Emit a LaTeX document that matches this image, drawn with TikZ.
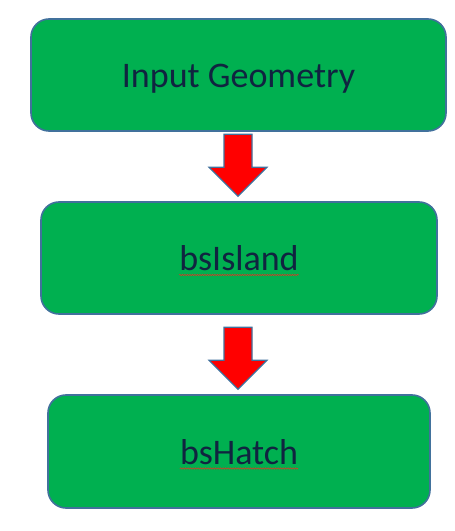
\documentclass[tikz,border=0pt]{standalone}
\usepackage{fontspec}
\setmainfont{Carlito}
\usetikzlibrary{calc,decorations.pathmorphing}
\definecolor{boxColor}{RGB}{0,176,80}
\definecolor{edgeColor}{RGB}{65,113,156}
\definecolor{arrowColor}{RGB}{255,0,0}
\definecolor{textColor}{RGB}{16,36,64}
\definecolor{waveColor}{RGB}{210,60,40}
\tikzset{
  stepbox/.style={draw=edgeColor,line width=1.6pt,fill=boxColor,rounded corners=18pt,inner sep=0pt},
  steptext/.style={text=textColor,anchor=base,inner sep=0pt,font=\fontsize{36}{42}\selectfont},
  blockarrow/.style={draw=edgeColor,line width=1.2pt,fill=arrowColor,line join=miter},
  spellwave/.style={draw=waveColor,line width=0.6pt,decorate,decoration={snake,amplitude=0.7pt,segment length=2.5pt}}
}
\begin{document}
\begin{tikzpicture}[x=1pt,y=1pt]
\path[use as bounding box,fill=white] (0,0) rectangle (455,531);

\node[stepbox,minimum width=415pt,minimum height=112pt] (geom) at (238.5,456) {};
\node[stepbox,minimum width=396pt,minimum height=112pt] (island) at (239,273) {};
\node[stepbox,minimum width=382pt,minimum height=113pt] (hatch) at (239,79.5) {};

\node[steptext] (geomtext) at ($(geom)+(0,-13)$) {Input Geometry};
\node[steptext] (islandtext) at ($(island)+(0,-13)$) {bsIsland};
\node[steptext] (hatchtext) at ($(hatch)+(0,-13)$) {bsHatch};

\foreach \b in {island,hatch} {
  \draw[blockarrow] ($(\b.north)+(-1,5)$) -- ++(-29,29) -- ++(15,0) -- ++(0,33)
    -- ++(28,0) -- ++(0,-33) -- ++(15,0) -- cycle;
}

\foreach \t in {islandtext,hatchtext} {
  \draw[spellwave] ($(\t.base west)+(0,-4)$) -- ($(\t.base east)+(0,-4)$);
}
\end{tikzpicture}
\end{document}
